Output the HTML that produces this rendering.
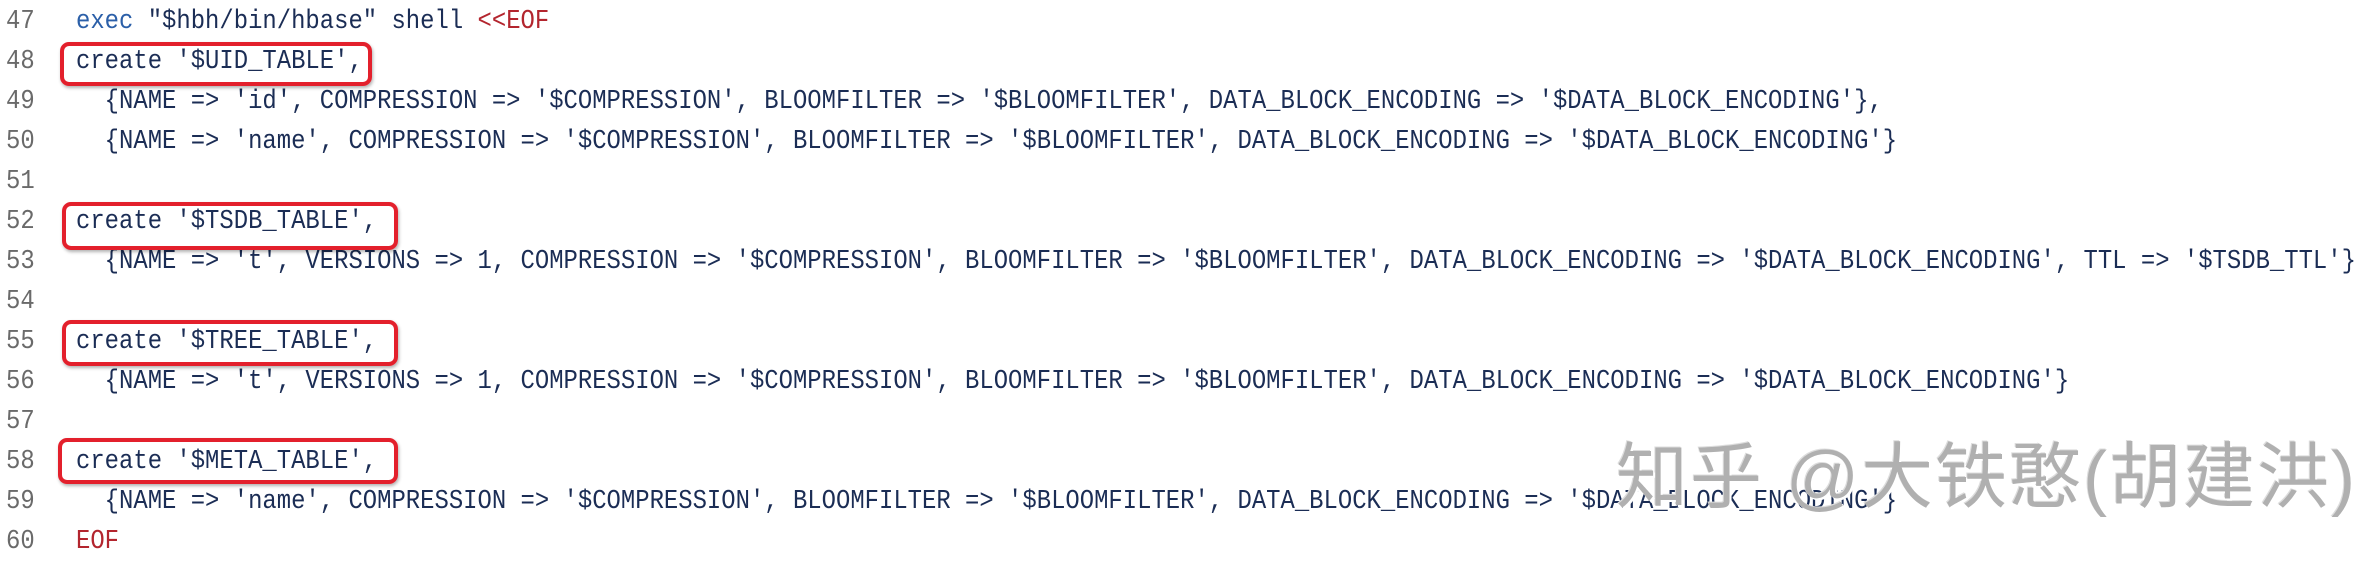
<!DOCTYPE html>
<html><head><meta charset="utf-8"><style>
html,body{margin:0;padding:0;background:#fff;}
body{width:2376px;height:558px;position:relative;overflow:hidden;font-family:"Liberation Mono",monospace;font-size:27px;}
.l{position:absolute;left:0;height:40px;line-height:40px;white-space:pre;color:#1b2d55;}
.n{position:absolute;left:6px;color:#6a6a6a;display:inline-block;transform:scaleX(0.885);transform-origin:0 50%;}
.c{position:absolute;left:76px;display:inline-block;transform:scaleX(0.885);transform-origin:0 50%;}
.k{color:#2b5fa8}
.r{color:#b3252e}
.box{position:absolute;border:4px solid #e3202c;border-radius:9px;box-shadow:1px 2px 3px rgba(0,0,0,0.3);}
.wm{position:absolute;left:1616px;top:418px;font-family:"Liberation Sans","Noto Sans CJK SC",sans-serif;font-size:72px;color:#b0b0b0;white-space:pre;letter-spacing:2px;text-shadow:2px 2px 0 #fff,-1px -1px 0 #ddd;}
</style></head><body>
<div class="l" style="top:2px"><span class="n">47</span><span class="c"><span class="k">exec</span> "$hbh/bin/hbase" shell <span class="r">&lt;&lt;EOF</span></span></div>
<div class="l" style="top:42px"><span class="n">48</span><span class="c">create '$UID_TABLE',</span></div>
<div class="l" style="top:82px"><span class="n">49</span><span class="c">  {NAME =&gt; 'id', COMPRESSION =&gt; '$COMPRESSION', BLOOMFILTER =&gt; '$BLOOMFILTER', DATA_BLOCK_ENCODING =&gt; '$DATA_BLOCK_ENCODING'},</span></div>
<div class="l" style="top:122px"><span class="n">50</span><span class="c">  {NAME =&gt; 'name', COMPRESSION =&gt; '$COMPRESSION', BLOOMFILTER =&gt; '$BLOOMFILTER', DATA_BLOCK_ENCODING =&gt; '$DATA_BLOCK_ENCODING'}</span></div>
<div class="l" style="top:162px"><span class="n">51</span></div>
<div class="l" style="top:202px"><span class="n">52</span><span class="c">create '$TSDB_TABLE',</span></div>
<div class="l" style="top:242px"><span class="n">53</span><span class="c">  {NAME =&gt; 't', VERSIONS =&gt; 1, COMPRESSION =&gt; '$COMPRESSION', BLOOMFILTER =&gt; '$BLOOMFILTER', DATA_BLOCK_ENCODING =&gt; '$DATA_BLOCK_ENCODING', TTL =&gt; '$TSDB_TTL'}</span></div>
<div class="l" style="top:282px"><span class="n">54</span></div>
<div class="l" style="top:322px"><span class="n">55</span><span class="c">create '$TREE_TABLE',</span></div>
<div class="l" style="top:362px"><span class="n">56</span><span class="c">  {NAME =&gt; 't', VERSIONS =&gt; 1, COMPRESSION =&gt; '$COMPRESSION', BLOOMFILTER =&gt; '$BLOOMFILTER', DATA_BLOCK_ENCODING =&gt; '$DATA_BLOCK_ENCODING'}</span></div>
<div class="l" style="top:402px"><span class="n">57</span></div>
<div class="l" style="top:442px"><span class="n">58</span><span class="c">create '$META_TABLE',</span></div>
<div class="l" style="top:482px"><span class="n">59</span><span class="c">  {NAME =&gt; 'name', COMPRESSION =&gt; '$COMPRESSION', BLOOMFILTER =&gt; '$BLOOMFILTER', DATA_BLOCK_ENCODING =&gt; '$DATA_BLOCK_ENCODING'}</span></div>
<div class="l" style="top:522px"><span class="n">60</span><span class="c"><span class="r">EOF</span></span></div>
<div class="box" style="left:60px;top:42px;width:304px;height:36px"></div>
<div class="box" style="left:62px;top:202px;width:328px;height:40px"></div>
<div class="box" style="left:62px;top:320px;width:328px;height:38px"></div>
<div class="box" style="left:58px;top:438px;width:332px;height:38px"></div>
<div class="wm">知乎 @大铁憨(胡建洪)</div>
</body></html>
